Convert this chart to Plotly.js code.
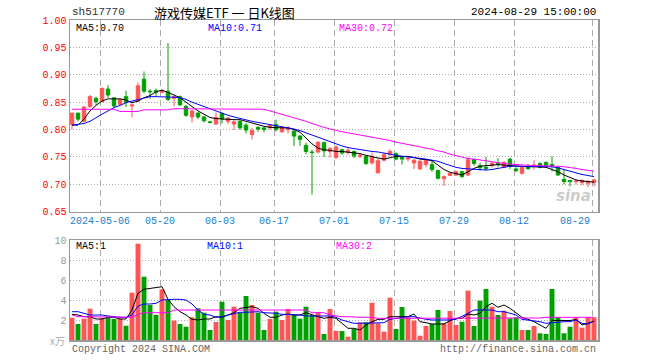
<!DOCTYPE html>
<html><head><meta charset="utf-8">
<script src="https://cdn.plot.ly/plotly-3.0.1.min.js"></script>
<style>html,body{margin:0;padding:0;background:#fff}#chart{width:660px;height:360px}</style>
</head><body><div id="chart"></div>
<script>
const dates = ['2024-04-24','2024-04-25','2024-04-26','2024-04-29','2024-04-30',
'2024-05-06','2024-05-07','2024-05-08','2024-05-09','2024-05-10','2024-05-13','2024-05-14','2024-05-15','2024-05-16','2024-05-17',
'2024-05-20','2024-05-21','2024-05-22','2024-05-23','2024-05-24','2024-05-27','2024-05-28','2024-05-29','2024-05-30','2024-05-31',
'2024-06-03','2024-06-04','2024-06-05','2024-06-06','2024-06-07','2024-06-11','2024-06-12','2024-06-13','2024-06-14',
'2024-06-17','2024-06-18','2024-06-19','2024-06-20','2024-06-21','2024-06-24','2024-06-25','2024-06-26','2024-06-27','2024-06-28',
'2024-07-01','2024-07-02','2024-07-03','2024-07-04','2024-07-05','2024-07-08','2024-07-09','2024-07-10','2024-07-11','2024-07-12',
'2024-07-15','2024-07-16','2024-07-17','2024-07-18','2024-07-19','2024-07-22','2024-07-23','2024-07-24','2024-07-25','2024-07-26',
'2024-07-29','2024-07-30','2024-07-31','2024-08-01','2024-08-02','2024-08-05','2024-08-06','2024-08-07','2024-08-08','2024-08-09',
'2024-08-12','2024-08-13','2024-08-14','2024-08-15','2024-08-16','2024-08-19','2024-08-20','2024-08-21','2024-08-22','2024-08-23',
'2024-08-26','2024-08-27','2024-08-28','2024-08-29'];

const open  = [.809,.830,.815,.842,.857,.851,.874,.858,.846,.860,.843,.852,.892,.870,.871,.868,.870,.857,.860,.842,.823,.830,.823,.814,.810,.829,.815,.810,.815,.808,.791,.804,.803,.803,.809,.796,.800,.797,.788,.771,.759,.759,.776,.760,.749,.763,.758,.760,.751,.751,.739,.721,.744,.754,.756,.750,.746,.739,.728,.736,.736,.725,.710,.716,.717,.723,.717,.745,.734,.731,.734,.738,.731,.746,.728,.720,.731,.734,.738,.740,.736,.731,.709,.707,.705,.703,.702,.703];
const high  = [.830,.830,.843,.863,.860,.877,.881,.859,.856,.871,.848,.886,.906,.874,.875,.873,.958,.862,.862,.845,.835,.832,.825,.816,.831,.831,.823,.817,.817,.812,.803,.806,.805,.810,.818,.806,.806,.800,.790,.776,.763,.778,.778,.768,.771,.765,.766,.762,.756,.753,.758,.748,.758,.764,.758,.752,.750,.746,.744,.746,.744,.727,.716,.722,.725,.725,.746,.747,.739,.750,.742,.748,.742,.748,.731,.733,.737,.744,.740,.742,.751,.733,.727,.708,.708,.709,.708,.710];
const low   = [.800,.815,.813,.840,.845,.849,.858,.840,.845,.841,.822,.851,.866,.856,.860,.866,.852,.842,.843,.823,.813,.819,.813,.811,.809,.811,.810,.799,.800,.793,.782,.796,.795,.800,.796,.794,.793,.770,.770,.755,.681,.757,.750,.749,.746,.754,.754,.748,.748,.735,.736,.720,.742,.751,.744,.736,.742,.728,.727,.731,.723,.709,.697,.715,.716,.712,.715,.734,.725,.725,.731,.731,.729,.728,.722,.718,.726,.727,.729,.731,.723,.715,.700,.696,.700,.698,.695,.696];
const close = [.830,.819,.841,.860,.851,.875,.863,.843,.855,.850,.845,.880,.870,.869,.868,.871,.855,.860,.845,.826,.834,.823,.816,.813,.822,.819,.821,.814,.803,.799,.798,.801,.800,.808,.800,.804,.803,.788,.782,.760,.758,.777,.761,.765,.768,.757,.762,.752,.753,.738,.751,.743,.754,.760,.746,.746,.748,.744,.742,.744,.727,.711,.714,.720,.723,.714,.745,.738,.730,.729,.738,.736,.740,.733,.725,.731,.729,.735,.731,.734,.734,.717,.705,.705,.706,.707,.705,.708];

const ma5  = [.808,.808,.819,.834,.844,.852,.856,.856,.856,.854,.849,.852,.858,.862,.869,.872,.868,.863,.858,.850,.843,.834,.828,.822,.820,.819,.818,.818,.818,.815,.811,.808,.806,.804,.803,.803,.803,.800,.795,.784,.774,.766,.763,.762,.760,.760,.759,.757,.756,.753,.750,.748,.746,.748,.751,.751,.751,.749,.746,.745,.743,.735,.727,.722,.719,.717,.723,.729,.733,.734,.735,.736,.735,.734,.733,.732,.732,.732,.732,.731,.727,.723,.717,.712,.708,.706,.705,.704];
const ma10 = [.808,.810,.811,.815,.822,.828,.834,.840,.844,.849,.852,.855,.858,.860,.860,.860,.859,.859,.858,.855,.850,.846,.841,.837,.834,.830,.826,.823,.820,.818,.815,.813,.811,.809,.807,.806,.804,.801,.798,.794,.789,.785,.781,.777,.773,.770,.767,.765,.763,.761,.760,.759,.757,.755,.752,.751,.750,.749,.748,.746,.744,.742,.738,.734,.731,.729,.728,.727,.726,.726,.727,.729,.731,.733,.733,.733,.733,.733,.733,.733,.732,.730,.727,.723,.720,.718,.716,.714];
const ma30 = [.837,.837,.837,.837,.837,.837,.837,.837,.833,.833,.833,.833,.836,.836,.836,.836,.836,.838,.838,.838,.838,.838,.838,.838,.838,.838,.838,.838,.838,.838,.838,.838,.837,.834,.831,.828,.824,.821,.818,.815,.811,.807,.804,.801,.798,.796,.794,.792,.791,.789,.787,.785,.783,.780,.777,.775,.772,.770,.768,.767,.764,.761,.759,.755,.752,.749,.747,.746,.745,.743,.741,.739,.738,.737,.736,.735,.735,.734,.734,.734,.733,.733,.732,.731,.729,.727,.725,.724];

const volume = [2.23,1.6,2.13,3.13,1.6,2.17,2.33,2.1,2.13,1.43,4.73,9.63,6.33,3.5,2.5,5.07,4.07,1.93,1.6,1.33,2.27,3.17,2.73,1.0,1.8,3.83,2.0,3.33,2.73,4.4,3.5,2.73,1.0,2.1,2.83,2.0,3.1,2.5,2.13,3.33,2.5,2.77,0.6,3.1,0.9,0.9,0.33,1.1,1.77,1.77,3.73,1.67,0.83,4.23,1.1,3.3,2.27,1.93,0.43,1.4,1.6,3.0,1.67,2.9,1.5,1.83,4.93,1.4,3.93,5.1,3.33,2.5,2.93,2.17,2.27,1.0,1.0,1.4,0.67,0.6,5.1,2.27,0.67,1.33,2.27,1.23,2.27,2.27];
const vma5  = [2.57,2.5,2.33,2.33,2.1,2.1,2.27,2.27,2.1,2.1,3.0,4.67,5.07,5.17,5.27,5.33,4.07,3.33,2.83,2.5,2.07,2.0,2.1,2.1,2.33,2.27,2.5,2.73,3.17,3.27,3.33,3.17,2.67,2.27,2.27,2.5,2.6,2.5,2.5,2.73,2.5,2.33,2.17,2.27,2.17,1.67,1.17,1.17,1.0,1.5,1.83,2.07,2.07,2.33,2.33,2.33,2.33,2.6,1.83,1.73,1.6,1.6,1.6,1.93,2.17,2.17,2.6,2.5,2.67,3.33,3.67,3.27,3.5,3.17,2.73,2.27,2.07,1.83,1.5,1.17,1.95,1.97,1.93,1.95,2.05,1.5,1.67,1.9];
const vma10 = [2.83,2.83,2.67,2.5,2.5,2.5,2.4,2.33,2.27,2.27,2.5,3.4,3.6,3.6,3.67,4.0,4.07,4.07,4.07,4.0,3.6,3.0,2.57,2.5,2.27,2.33,2.5,2.67,2.77,2.77,2.83,2.83,2.73,2.73,2.67,2.57,2.57,2.57,2.5,2.4,2.4,2.4,2.33,2.4,2.27,2.0,1.83,1.67,1.67,1.67,1.67,1.67,1.73,2.07,2.17,2.27,2.33,2.33,2.17,2.07,2.0,2.0,1.93,2.0,2.07,2.33,2.67,3.0,3.0,3.0,3.0,2.83,2.83,2.67,2.5,2.07,2.0,1.93,1.83,1.67,1.73,1.83,1.83,1.83,2.0,1.67,1.6,1.9];
const vma30 = [2.5,2.33,2.33,2.33,2.33,2.33,2.33,2.33,2.33,2.33,2.27,2.57,2.73,2.73,2.73,2.73,2.73,3.0,3.0,3.0,3.0,3.0,3.0,3.0,3.0,3.0,3.0,3.0,3.0,3.0,3.0,3.0,3.0,3.0,3.0,3.0,3.0,3.0,3.0,3.0,2.73,2.73,2.73,2.5,2.4,2.33,2.33,2.27,2.27,2.27,2.27,2.17,2.17,2.17,2.17,2.17,2.17,2.17,2.17,2.17,2.17,2.17,2.17,2.17,2.17,2.17,2.17,2.17,2.17,2.17,2.17,2.17,2.17,2.17,2.17,2.2,2.2,2.2,2.2,2.27,2.27,2.27,2.27,2.27,2.27,2.27,2.27,2.27];

const tickDates  = ['2024-05-06','2024-05-20','2024-06-03','2024-06-17','2024-07-01','2024-07-15','2024-07-29','2024-08-12','2024-08-29'];
const tickLabels = ['2024-05-06','05-20','06-03','06-17','07-01','07-15','07-29','08-12','08-29'];
const priceTicks = [0.65,0.70,0.75,0.80,0.85,0.90,0.95,1.00];
const volTicks = [2,4,6,8,10];

const RED = '#ff5555', GREEN = '#00a000';
const MONO = 'Liberation Mono, DejaVu Sans Mono, monospace';
const idx = dates.map((d,i)=>i);
const xticks = tickDates.map(d => dates.indexOf(d) - 1/3);
const volColors = close.map((c,i)=> c >= open[i] ? RED : GREEN);
const trunc = (v,d) => (Math.floor(v*Math.pow(10,d)+1e-9)/Math.pow(10,d)).toFixed(d);
const last = a => a[a.length-1];

const traces = [
  {type:'candlestick', x:idx, open:open, high:high, low:low, close:close, xaxis:'x', yaxis:'y',
   increasing:{line:{color:RED,width:1}, fillcolor:RED},
   decreasing:{line:{color:GREEN,width:1}, fillcolor:GREEN}, hoverinfo:'skip'},
  {type:'scatter', mode:'lines', x:idx, y:ma5, line:{color:'#000000',width:1}, xaxis:'x', yaxis:'y', hoverinfo:'skip'},
  {type:'scatter', mode:'lines', x:idx, y:ma10, line:{color:'#0000ff',width:1}, xaxis:'x', yaxis:'y', hoverinfo:'skip'},
  {type:'scatter', mode:'lines', x:idx, y:ma30, line:{color:'#ff00ff',width:1}, xaxis:'x', yaxis:'y', hoverinfo:'skip'},
  {type:'bar', x:idx, y:volume, marker:{color:volColors, line:{width:0}}, xaxis:'x2', yaxis:'y2', hoverinfo:'skip'},
  {type:'scatter', mode:'lines', x:idx, y:vma5, line:{color:'#000000',width:1}, xaxis:'x2', yaxis:'y2', hoverinfo:'skip'},
  {type:'scatter', mode:'lines', x:idx, y:vma10, line:{color:'#0000ff',width:1}, xaxis:'x2', yaxis:'y2', hoverinfo:'skip'},
  {type:'scatter', mode:'lines', x:idx, y:vma30, line:{color:'#ff00ff',width:1}, xaxis:'x2', yaxis:'y2', hoverinfo:'skip'}
];

const xr = [-1/3, dates.length - 1/3];
const gridX = {showgrid:true, gridcolor:'#aaaaaa', griddash:'6px,4px', gridwidth:1, zeroline:false,
  showline:true, mirror:true, linecolor:'#999999', linewidth:1.5, ticks:'', range:xr, fixedrange:true,
  tickmode:'array', tickvals:xticks, ticktext:tickLabels, showticklabels:false};

// date labels below the price panel (last one right-aligned to its grid line, as in the original)
const dateAnns = xticks.map((xv,k)=>({xref:'x', yref:'paper', x:xv, y:0.37, xanchor: k===xticks.length-1 ? 'right':'center',
  yanchor:'middle', showarrow:false, text:tickLabels[k], font:{family:MONO,size:10,color:'#1a7fd0'}}));

const layout = {
  width:660, height:360, margin:{l:70, r:62, t:20, b:20},
  paper_bgcolor:'#ffffff', plot_bgcolor:'#ffffff', showlegend:false,
  boxgap:0.18, bargap:0.18,
  font:{family:MONO, size:10, color:'#000'},
  xaxis: Object.assign({}, gridX, {anchor:'y', domain:[0,1], rangeslider:{visible:false}}),
  yaxis: {domain:[0.401,1], range:[0.65,1.00], tickmode:'array', tickvals:priceTicks,
    ticktext:priceTicks.map(v=>v.toFixed(2)), tickfont:{family:MONO,size:10,color:'#ff0000'},
    showgrid:true, gridcolor:'#aaaaaa', griddash:'1px,2px', zeroline:false, showline:true, mirror:true,
    linecolor:'#999999', linewidth:1.5, ticks:'', fixedrange:true},
  xaxis2: Object.assign({}, gridX, {anchor:'y2', domain:[0,1]}),
  yaxis2: {domain:[0,0.3125], range:[0,10], tickmode:'array', tickvals:volTicks,
    tickfont:{family:MONO,size:10,color:'#999999'}, showgrid:true, gridcolor:'#aaaaaa', griddash:'1px,2px',
    zeroline:false, showline:true, mirror:true, linecolor:'#999999', linewidth:1.5, ticks:'', fixedrange:true},
  annotations: dateAnns.concat([
    {xref:'paper', yref:'paper', x:0, y:1.025, xanchor:'left', yanchor:'middle', showarrow:false,
     text:'sh517770', font:{family:MONO, size:11, color:'#333'}},
    {xref:'paper', yref:'paper', x:0.293, y:1.025, xanchor:'center', yanchor:'middle', showarrow:false,
     text:'游戏传媒ETF 一 日K线图', font:{family:'Noto Sans CJK SC', size:13, color:'#000'}},
    {xref:'paper', yref:'paper', x:1, y:1.025, xanchor:'right', yanchor:'middle', showarrow:false,
     text:'2024-08-29 15:00:00', font:{family:MONO, size:11, color:'#000'}},
    {xref:'paper', yref:'paper', x:0.007, y:0.9735, xanchor:'left', yanchor:'middle', showarrow:false,
     text:'MA5:'+trunc(last(ma5),2), font:{family:MONO,size:10,color:'#000'}},
    {xref:'paper', yref:'paper', x:0.257, y:0.9735, xanchor:'left', yanchor:'middle', showarrow:false,
     text:'MA10:'+trunc(last(ma10),2), font:{family:MONO,size:10,color:'#0000ff'}},
    {xref:'paper', yref:'paper', x:0.505, y:0.9735, xanchor:'left', yanchor:'middle', showarrow:false,
     text:'MA30:'+trunc(last(ma30),2), font:{family:MONO,size:10,color:'#ff00ff'}},
    {xref:'paper', yref:'paper', x:0.007, y:0.292, xanchor:'left', yanchor:'middle', showarrow:false,
     text:'MA5:'+trunc(last(vma5),0), font:{family:MONO,size:10,color:'#000'}},
    {xref:'paper', yref:'paper', x:0.255, y:0.292, xanchor:'left', yanchor:'middle', showarrow:false,
     text:'MA10:'+trunc(last(vma10),0), font:{family:MONO,size:10,color:'#0000ff'}},
    {xref:'paper', yref:'paper', x:0.5, y:0.292, xanchor:'left', yanchor:'middle', showarrow:false,
     text:'MA30:'+trunc(last(vma30),0), font:{family:MONO,size:10,color:'#ff00ff'}},
    {xref:'paper', yref:'paper', x:-0.005, y:0, xanchor:'right', yanchor:'middle', showarrow:false,
     text:'x万', font:{family:'Noto Sans CJK SC',size:10,color:'#aaaaaa'}},
    {xref:'paper', yref:'paper', x:0, y:-0.005, xanchor:'left', yanchor:'top', showarrow:false,
     text:'Copyright 2024 SINA.COM', font:{family:MONO,size:10,color:'#666'}},
    {xref:'paper', yref:'paper', x:1, y:-0.005, xanchor:'right', yanchor:'top', showarrow:false,
     text:'http://finance.sina.com.cn', font:{family:MONO,size:10,color:'#666'}},
    {xref:'paper', yref:'paper', x:0.99, y:0.415, xanchor:'right', yanchor:'bottom', showarrow:false,
     text:'<b><i>sina</i></b>', font:{family:'DejaVu Sans',size:15,color:'rgba(190,190,190,0.8)'}}
  ])
};

Plotly.newPlot('chart', traces, layout, {displayModeBar:false, staticPlot:true});
</script></body></html>
